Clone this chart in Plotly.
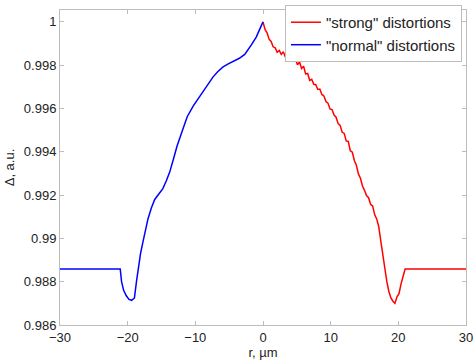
import plotly.graph_objects as go

# "strong" distortions (red), r >= 0
red_r = [0.0, 0.3, 0.6, 0.9, 1.2, 1.5, 1.8, 2.1, 2.4, 2.7, 3.0, 3.3, 3.6, 3.9, 4.2, 4.5, 4.8, 5.1, 5.4, 5.7,
         6.0, 6.3, 6.6, 6.9, 7.2, 7.5, 7.8, 8.1, 8.4, 8.7, 9.0, 9.3, 9.6, 9.9, 10.2, 10.5, 10.8, 11.1, 11.4, 11.7,
         12.0, 12.3, 12.6, 12.9, 13.2, 13.5, 13.8, 14.1, 14.4, 14.7, 15.0, 15.3, 15.6, 15.9, 16.2, 16.5, 16.8, 17.1,
         17.4, 17.7, 18.0, 18.3, 18.6, 18.9, 19.2, 19.5, 19.8, 20.1, 20.4, 20.7, 21.0, 30.0]
red_d = [1.0000, 0.99965, 0.99950, 0.99920, 0.99910, 0.99885, 0.99880, 0.99860, 0.99868, 0.99850,
         0.99862, 0.99838, 0.99852, 0.99830, 0.99845, 0.99820, 0.99828, 0.99802, 0.99815, 0.99785,
         0.99795, 0.99760, 0.99762, 0.99730, 0.99735, 0.99712, 0.99710, 0.99688, 0.99690, 0.99665,
         0.99658, 0.99632, 0.99625, 0.99598, 0.99595, 0.99570, 0.99560, 0.99530, 0.99522, 0.99490,
         0.99485, 0.99450, 0.99448, 0.99405, 0.99398, 0.99360, 0.99338, 0.99298, 0.99278, 0.99242,
         0.99222, 0.99198, 0.99188, 0.99158, 0.99150, 0.99110, 0.99090, 0.99055,
         0.98990, 0.98920, 0.98860, 0.98800, 0.98755, 0.98725, 0.98710, 0.98700, 0.98730, 0.98745,
         0.98790, 0.98830, 0.98859, 0.98859]

# "normal" distortions (blue), r <= 0
blue_r = [-30.0, -21.1, -20.9, -20.6, -20.2, -19.8, -19.4, -19.0, -18.7, -18.4, -18.1, -17.7, -17.3, -17.0,
          -16.5, -16.0, -15.4, -14.8, -14.3, -13.8, -13.2, -12.7, -12.0, -11.2, -10.3, -9.6, -8.9, -8.2,
          -7.4, -6.7, -5.9, -5.2, -4.4, -3.5, -2.7, -2.2, -1.7, -1.0, -0.5, 0.0]
blue_d = [0.98859, 0.98859, 0.98800, 0.98760, 0.98735, 0.98718, 0.98714, 0.98725, 0.98800, 0.98870,
          0.98930, 0.98990, 0.99050, 0.99090, 0.99140, 0.99180, 0.99205, 0.99230, 0.99265, 0.99305,
          0.99370, 0.99427, 0.99490, 0.99562, 0.99612, 0.99645, 0.99672, 0.99710, 0.99745, 0.99770,
          0.99792, 0.99805, 0.99818, 0.99832, 0.99850, 0.99870, 0.99895, 0.99930, 0.99965, 1.0000]

x_ticks = [-30, -20, -10, 0, 10, 20, 30]
y_ticks = [0.986, 0.988, 0.990, 0.992, 0.994, 0.996, 0.998, 1.0]
y_tick_text = ["0.986", "0.988", "0.99", "0.992", "0.994", "0.996", "0.998", "1"]

font = "Liberation Sans, Arial, sans-serif"
axcol = "#bdbdbd"

fig = go.Figure()
fig.add_trace(go.Scatter(x=red_r, y=red_d, mode="lines", name='"strong" distortions',
                         line=dict(color="#ff0000", width=1.5)))
fig.add_trace(go.Scatter(x=blue_r, y=blue_d, mode="lines", name='"normal" distortions',
                         line=dict(color="#0000ff", width=1.5)))

fig.update_layout(
    width=474, height=361,
    margin=dict(l=60, r=8, t=5, b=36),
    paper_bgcolor="white", plot_bgcolor="white",
    font=dict(family=font, size=13, color="#222222"),
    showlegend=True,
    legend=dict(x=0.99, y=1.016, xanchor="right", yanchor="top",
                bgcolor="white", bordercolor=axcol, borderwidth=1,
                font=dict(size=15, family=font), tracegroupgap=0,
                itemwidth=30),
    xaxis=dict(range=[-30, 30], tickvals=x_ticks, showgrid=False, zeroline=False,
               showline=True, linecolor=axcol, mirror="ticks", ticks="inside",
               tickcolor=axcol, ticklen=4, automargin=False,
               title=dict(text="r, µm", standoff=1, font=dict(size=13))),
    yaxis=dict(range=[0.986, 1.00055], tickvals=y_ticks, ticktext=y_tick_text,
               showgrid=False, zeroline=False,
               showline=True, linecolor=axcol, mirror="ticks", ticks="inside",
               tickcolor=axcol, ticklen=4, automargin=False,
               title=dict(text="Δ, a.u.", standoff=6, font=dict(size=13))),
)

fig.write_html("out.html", config={"displayModeBar": False},
               post_script="document.body.style.margin='0px';document.body.style.overflow='hidden';")
